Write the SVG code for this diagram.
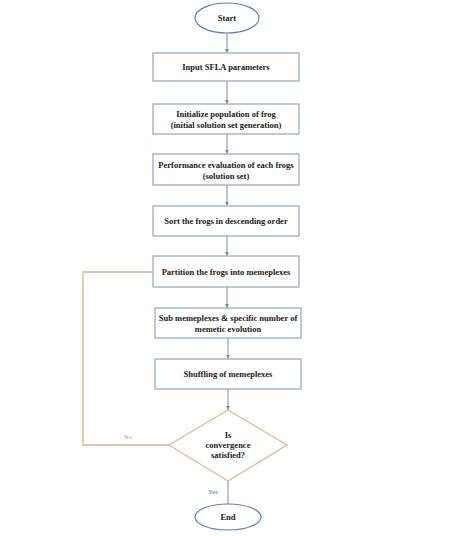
<svg xmlns="http://www.w3.org/2000/svg" width="474" height="536" viewBox="0 0 474 536">
<style>
.t{font-family:"Liberation Serif","Times New Roman",serif;font-weight:bold;font-size:8.5px;fill:#1a1a1a;text-anchor:middle}
.b{fill:#fff;stroke:#8fa6c4;stroke-width:1.2}
.e{fill:#fff;stroke:#5f7fb5;stroke-width:1.2}
.c{stroke:#7d8ca3;stroke-width:1;fill:none}
.o{stroke:#deb08a;stroke-width:1.3;fill:none}
</style>
<defs>
<marker id="a" markerWidth="4" markerHeight="4" refX="3.5" refY="2" orient="auto" markerUnits="userSpaceOnUse">
<path d="M0,0 L4,2 L0,4 z" fill="#7d8ca3"/>
</marker>
</defs>
<rect width="474" height="536" fill="#fff"/>
<g id="connectors">
<line class="c" x1="227" y1="33" x2="227" y2="52.5" marker-end="url(#a)"/>
<line class="c" x1="227" y1="81" x2="227" y2="103.5" marker-end="url(#a)"/>
<line class="c" x1="227" y1="134" x2="227" y2="153.5" marker-end="url(#a)"/>
<line class="c" x1="227" y1="185" x2="227" y2="205.5" marker-end="url(#a)"/>
<line class="c" x1="227" y1="236" x2="227" y2="255.5" marker-end="url(#a)"/>
<line class="c" x1="227" y1="287" x2="227" y2="307.5" marker-end="url(#a)"/>
<line class="c" x1="228" y1="338" x2="228" y2="358.5" marker-end="url(#a)"/>
<line class="c" x1="228" y1="389" x2="228" y2="409.5" marker-end="url(#a)"/>
<line class="c" x1="228" y1="481" x2="228" y2="504.5"/>
<polyline class="o" points="169,445 83,445 83,272 153,272"/>
<text x="128" y="439" style="font-family:'Liberation Serif',serif;font-size:6.5px;fill:#d08a4e;text-anchor:middle">No</text>
<text x="213" y="494" style="font-family:'Liberation Serif',serif;font-size:6.5px;fill:#4a6fb0;text-anchor:middle">Yes</text>
</g>
<g id="start"><ellipse class="e" cx="227" cy="18" rx="32" ry="15"/><text class="t" x="227" y="21">Start</text></g>
<g id="input"><rect class="b" x="153" y="53" width="146" height="28"/><text class="t" x="226" y="70">Input SFLA parameters</text></g>
<g id="init"><rect class="b" x="153" y="104" width="146" height="30"/><text class="t" x="226" y="117">Initialize population of frog</text><text class="t" x="226" y="128">(initial solution set generation)</text></g>
<g id="perf"><rect class="b" x="153" y="154" width="146" height="31"/><text class="t" x="226" y="168">Performance evaluation of each frogs</text><text class="t" x="226" y="179">(solution set)</text></g>
<g id="sort"><rect class="b" x="153" y="206" width="146" height="30"/><text class="t" x="226" y="224">Sort the frogs in descending order</text></g>
<g id="partition"><rect class="b" x="153" y="256" width="146" height="31"/><text class="t" x="226" y="275">Partition the frogs into memeplexes</text></g>
<g id="sub"><rect class="b" x="155" y="308" width="146" height="30"/><text class="t" x="228" y="321">Sub memeplexes &amp; specific number of</text><text class="t" x="228" y="332">memetic evolution</text></g>
<g id="shuffle"><rect class="b" x="155" y="359" width="146" height="30"/><text class="t" x="228" y="377">Shuffling of memeplexes</text></g>
<g id="decision"><polygon points="228,410 287,445 228,481 169,445" fill="#fff" stroke="#e8b88e" stroke-width="1.3"/><text class="t" x="228" y="438">Is</text><text class="t" x="228" y="448">convergence</text><text class="t" x="228" y="458">satisfied?</text></g>
<g id="end"><ellipse class="e" cx="228" cy="517" rx="33" ry="13"/><text class="t" x="228" y="520">End</text></g>
</svg>
